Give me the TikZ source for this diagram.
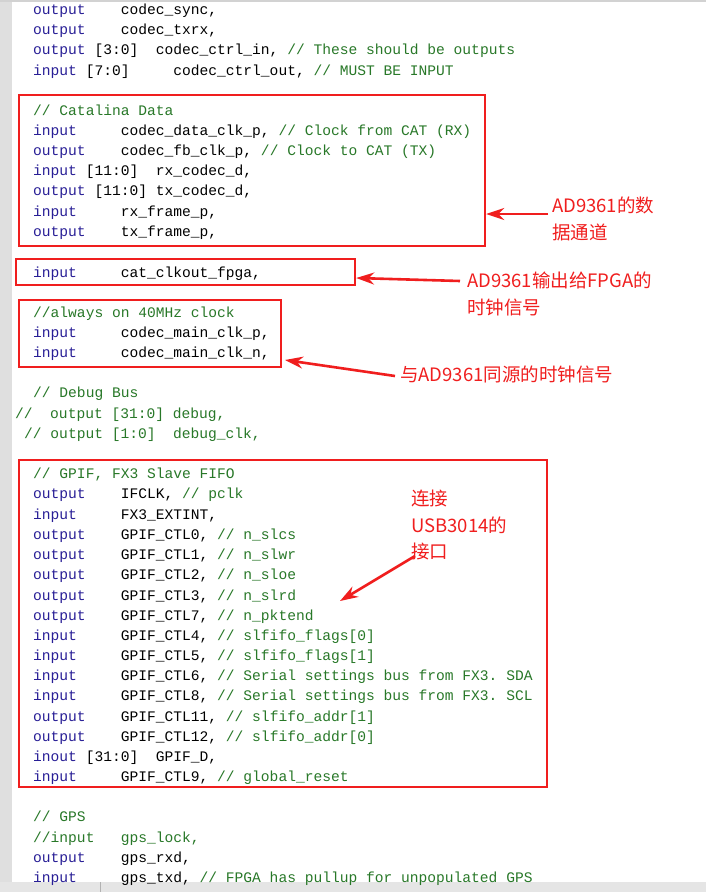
\documentclass[tikz,border=0pt]{standalone}
\usepackage{fontspec}
\usetikzlibrary{arrows.meta}
\newfontfamily\mono{Liberation Mono}
\newfontfamily\cjk{Noto Sans CJK SC}
\definecolor{kw}{RGB}{40,30,150}
\definecolor{cm}{RGB}{40,120,40}
\definecolor{rd}{RGB}{240,30,30}
\newcommand{\K}[1]{\textcolor{kw}{#1}}
\newcommand{\C}[1]{\textcolor{cm}{#1}}
\tikzset{code/.style={anchor=base west,inner sep=0,font=\mono\fontsize{14.6}{16}\selectfont},
 rbox/.style={draw=rd,line width=2.4pt},
 note/.style={anchor=north west,inner sep=0,text=rd,font=\cjk\fontsize{18.5}{26.5}\selectfont,align=left},
 rarr/.style={draw=rd,line width=2.6pt,-{Stealth[length=18pt,width=12pt]}}}
\begin{document}
\begin{tikzpicture}[x=1pt,y=-1pt]
\useasboundingbox (0,0) rectangle (706,892);
\fill[white] (0,0) rectangle (706,892);
\fill[gray!25] (0,0) rectangle (12,882);
\fill[gray!35] (0,0) rectangle (706,2);
\fill[gray!20] (0,882) rectangle (706,892);
\draw[gray!60] (100,882) -- (100,892);
\node[code] (l1) at (33,14) {\K{output}~~~~codec\_sync,};
\node[code] (l2) at (33,34) {\K{output}~~~~codec\_txrx,};
\node[code] (l3) at (33,54) {\K{output}~[3:0]~~codec\_ctrl\_in,~\C{//~These~should~be~outputs}};
\node[code] (l4) at (33,75) {\K{input}~[7:0]~~~~~codec\_ctrl\_out,~\C{//~MUST~BE~INPUT}};
\node[code] (l5) at (33,115) {\C{//~Catalina~Data}};
\node[code] (l6) at (33,135) {\K{input}~~~~~codec\_data\_clk\_p,~\C{//~Clock~from~CAT~(RX)}};
\node[code] (l7) at (33,155) {\K{output}~~~~codec\_fb\_clk\_p,~\C{//~Clock~to~CAT~(TX)}};
\node[code] (l8) at (33,175) {\K{input}~[11:0]~~rx\_codec\_d,};
\node[code] (l9) at (33,195) {\K{output}~[11:0]~tx\_codec\_d,};
\node[code] (l10) at (33,216) {\K{input}~~~~~rx\_frame\_p,};
\node[code] (l11) at (33,236) {\K{output}~~~~tx\_frame\_p,};
\node[code] (l12) at (33,277) {\K{input}~~~~~cat\_clkout\_fpga,};
\node[code] (l13) at (33,317) {\C{//always~on~40MHz~clock}};
\node[code] (l14) at (33,337) {\K{input}~~~~~codec\_main\_clk\_p,};
\node[code] (l15) at (33,357) {\K{input}~~~~~codec\_main\_clk\_n,};
\node[code] (l16) at (33,397) {\C{//~Debug~Bus}};
\node[code] (l17) at (15,418) {\C{//~~output~[31:0]~debug,}};
\node[code] (l18) at (24,438) {\C{//~output~[1:0]~~debug\_clk,}};
\node[code] (g0) at (33,478) {\C{//~GPIF,~FX3~Slave~FIFO}};
\node[code] (g1) at (33,498) {\K{output}~~~~IFCLK,~\C{//~pclk}};
\node[code] (g2) at (33,519) {\K{input}~~~~~FX3\_EXTINT,};
\node[code] (g3) at (33,539) {\K{output}~~~~GPIF\_CTL0,~\C{//~n\_slcs}};
\node[code] (g4) at (33,559) {\K{output}~~~~GPIF\_CTL1,~\C{//~n\_slwr}};
\node[code] (g5) at (33,579) {\K{output}~~~~GPIF\_CTL2,~\C{//~n\_sloe}};
\node[code] (g6) at (33,600) {\K{output}~~~~GPIF\_CTL3,~\C{//~n\_slrd}};
\node[code] (g7) at (33,620) {\K{output}~~~~GPIF\_CTL7,~\C{//~n\_pktend}};
\node[code] (g8) at (33,640) {\K{input}~~~~~GPIF\_CTL4,~\C{//~slfifo\_flags[0]}};
\node[code] (g9) at (33,660) {\K{input}~~~~~GPIF\_CTL5,~\C{//~slfifo\_flags[1]}};
\node[code] (g10) at (33,680) {\K{input}~~~~~GPIF\_CTL6,~\C{//~Serial~settings~bus~from~FX3.~SDA}};
\node[code] (g11) at (33,700) {\K{input}~~~~~GPIF\_CTL8,~\C{//~Serial~settings~bus~from~FX3.~SCL}};
\node[code] (g12) at (33,721) {\K{output}~~~~GPIF\_CTL11,~\C{//~slfifo\_addr[1]}};
\node[code] (g13) at (33,741) {\K{output}~~~~GPIF\_CTL12,~\C{//~slfifo\_addr[0]}};
\node[code] (g14) at (33,761) {\K{inout}~[31:0]~~GPIF\_D,};
\node[code] (g15) at (33,781) {\K{input}~~~~~GPIF\_CTL9,~\C{//~global\_reset}};
\node[code] (p0) at (33,821) {\C{//~GPS}};
\node[code] (p1) at (33,842) {\C{//input~~~gps\_lock,}};
\node[code] (p2) at (33,862) {\K{output}~~~~gps\_rxd,};
\node[code] (p3) at (33,882) {\K{input}~~~~~gps\_txd,~\C{//~FPGA~has~pullup~for~unpopulated~GPS}};
\node[rbox,minimum width=466,minimum height=151,inner sep=0] (b1) at (252,170.5) {};
\node[rbox,minimum width=339,minimum height=26,inner sep=0] (b2) at (185.5,272) {};
\node[rbox,minimum width=262,minimum height=67,inner sep=0] (b3) at (150,333.5) {};
\node[rbox,minimum width=528,minimum height=327,inner sep=0] (b4) at (283,623.5) {};
\node[note] (n1) at (552,197) {AD9361的数\\据通道};
\node[note] (n2) at (467,272) {AD9361输出给FPGA的\\时钟信号};
\node[note] (n3) at (400,366) {与AD9361同源的时钟信号};
\node[note] (n4) at (411,490) {连接\\USB3014的\\接口};
\coordinate (t1) at (548,214);
\coordinate (t2) at (460,281);
\coordinate (t3) at (395,376);
\coordinate (t4) at (415,556);
\draw[rarr] (t1) -- (b1.east |- t1);
\draw[rarr] (t2) -- (b2.east |- 0,278);
\draw[rarr] (t3) -- (285,360);
\draw[rarr] (t4) -- (340,601);
\end{tikzpicture}
\end{document}
